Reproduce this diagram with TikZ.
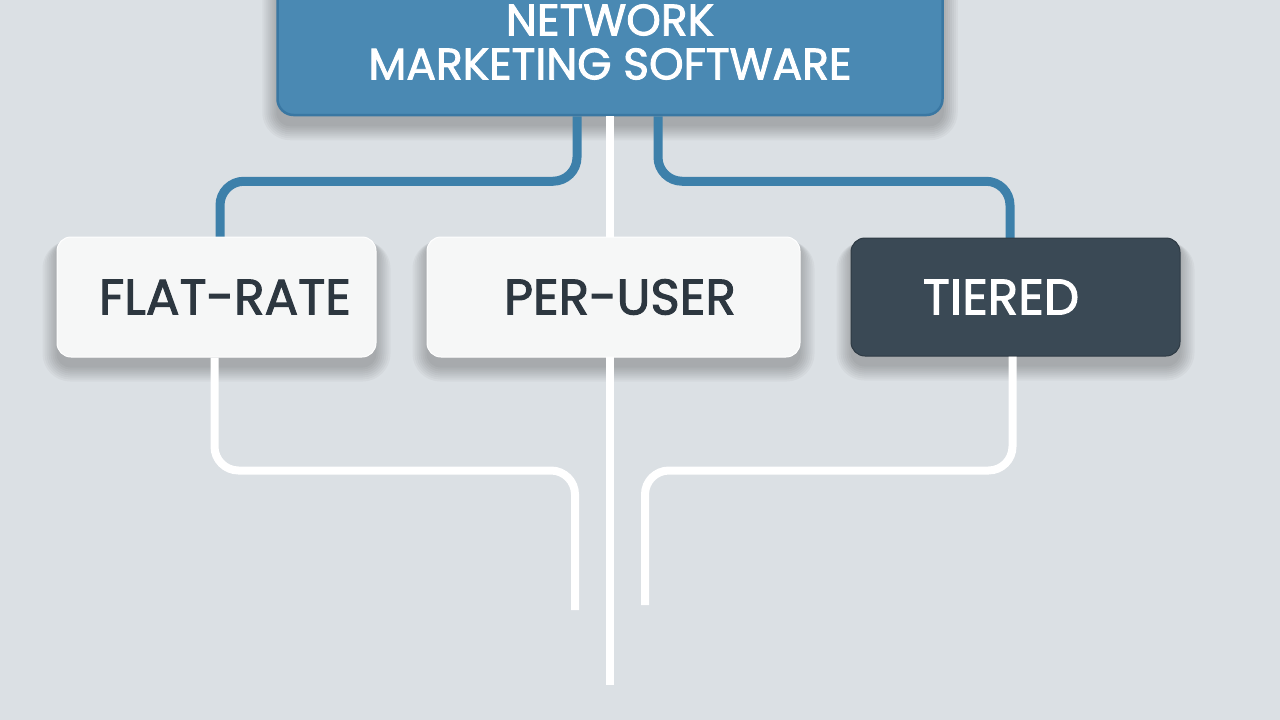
\documentclass[tikz,border=0pt]{standalone}
\usepackage{fontspec}
\setmainfont{Poppins}
\newfontfamily\planfont{Poppins}[FakeBold=2]
\usepackage{xcolor}
\usepackage{tikz}
\definecolor{bgcol}{HTML}{DBE0E4}
\definecolor{netblue}{HTML}{4A89B3}
\definecolor{netedge}{HTML}{3A77A2}
\definecolor{linkblue}{HTML}{3D80AA}
\definecolor{tierdark}{HTML}{3A4955}
\definecolor{textdark}{HTML}{2D3740}
\definecolor{boxwhite}{HTML}{F6F7F7}
\pgfdeclarelayer{back}
\pgfdeclarelayer{shade}
\pgfsetlayers{back,shade,main}

\begin{document}
\begin{tikzpicture}[x=1pt,y=-1pt,
  plan/.style={rounded corners=14pt,minimum height=120pt,inner sep=0pt,
    font=\planfont\fontsize{50}{52}\selectfont},
  lightplan/.style={plan,fill=boxwhite,draw=white,line width=1pt,text=textdark},
  darkplan/.style={plan,fill=tierdark,draw=tierdark!80!black,line width=1pt,text=white},
  bluelink/.style={draw=linkblue,line width=9pt,rounded corners=24pt},
  whitelink/.style={draw=white,line width=8pt,rounded corners=24pt}]
\useasboundingbox (0,0) rectangle (1280,720);
\begin{pgfonlayer}{back}
\fill[bgcol] (0,0) rectangle (1280,720);
\end{pgfonlayer}

% white links behind the boxes
\coordinate (midend) at (610,685);
\coordinate (leftend) at (575,610);
\coordinate (rightend) at (645,605);

% boxes
\node[rounded corners=16pt,fill=netblue,draw=netedge,line width=2.5pt,text=white,
  minimum width=665pt,minimum height=146pt,align=center,inner sep=0pt,
  font=\planfont\fontsize{44}{44}\selectfont] (net) at (610,42) {NETWORK\\MARKETING SOFTWARE};
\draw[whitelink] (net.south) -- (midend);
\draw[bluelink] ([xshift=-33pt]net.south) -- ++(0,65) -| (220,237);
\draw[bluelink] ([xshift=48pt]net.south) -- ++(0,65) -| (1010,238);

\node[lightplan,minimum width=319pt] (flat) at (216.5,297) {\kern17pt FLAT-RATE};
\node[lightplan,minimum width=373pt] (peruser) at (613.5,297) {\kern13pt PER-USER};
\node[darkplan,minimum width=329pt,minimum height=118pt] (tiered) at (1015.5,297) {TIERED\kern29pt};

\draw[whitelink] ([xshift=-2pt]flat.south) -- ++(0,113) -| (leftend);
\draw[whitelink] ([xshift=-3pt]tiered.south) -- ++(0,114) -| (rightend);

% soft shadows under the boxes
\begin{pgfonlayer}{shade}
\foreach \n in {net,flat,peruser,tiered}
  \foreach \k in {0,2,...,14}
    \fill[black,opacity=0.03,rounded corners=14pt+\k pt]
      ([xshift=-\k pt,yshift=-4pt]\n.north west) rectangle ([xshift=\k pt,yshift=-10pt-\k pt]\n.south east);
\end{pgfonlayer}
\end{tikzpicture}
\end{document}
